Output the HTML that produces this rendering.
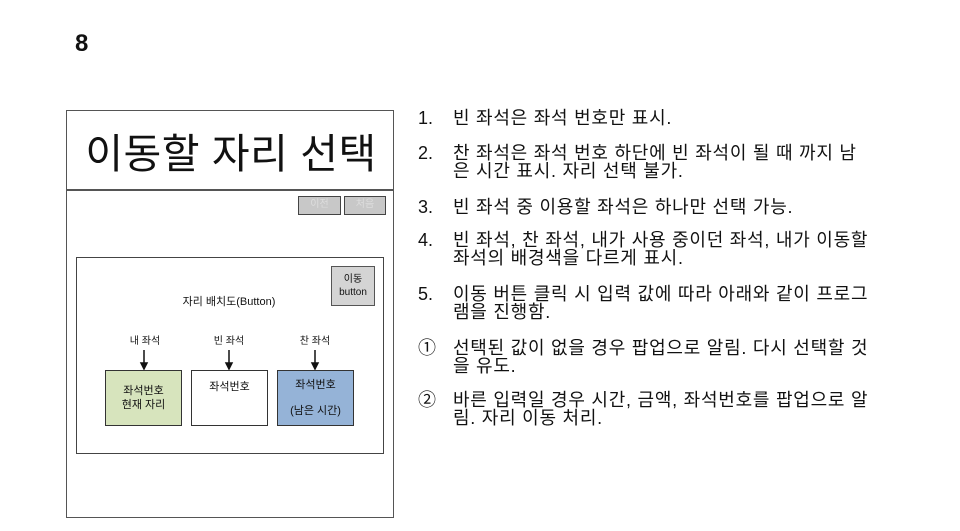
<!DOCTYPE html>
<html><head><meta charset="utf-8"><style>
body{margin:0;width:960px;height:531px;background:#fff;position:relative;overflow:hidden;font-family:"Liberation Sans","Noto Sans CJK KR","NanumGothic",sans-serif;color:#111}
.a{position:absolute}
.b{position:absolute;box-sizing:border-box}
.t{position:absolute;font-size:11px;white-space:nowrap;transform:translateX(-50%)}
.li{position:absolute;left:418px;font-size:18px;line-height:18px;white-space:nowrap}
.li span{position:absolute;left:35px;top:0;letter-spacing:0.75px}
</style></head><body>
<div class="a" style="left:75px;top:30px;font-size:24px;font-weight:bold">8</div>
<div class="b" style="left:66px;top:110px;width:328px;height:408px;border:1.5px solid #555"></div>
<div class="a" style="left:66px;top:189px;width:328px;height:2px;background:#555"></div>
<div class="t" style="left:231px;top:120px;font-size:41px;letter-spacing:0.5px">이동할 자리 선택</div>
<div class="b" style="left:298px;top:196px;width:43px;height:19px;background:#c8c8c8;border:1.5px solid #444;color:#ddd;font-size:10px;text-align:center;line-height:16px">이전</div>
<div class="b" style="left:344px;top:196px;width:42px;height:19px;background:#c8c8c8;border:1.5px solid #444;color:#ddd;font-size:10px;text-align:center;line-height:16px">처음</div>
<div class="b" style="left:76px;top:257px;width:308px;height:197px;border:1.5px solid #444"></div>
<div class="b" style="left:331px;top:266px;width:44px;height:40px;background:#d4d4d4;border:1.5px solid #555;font-size:10px;text-align:center;line-height:13px;padding-top:6px">이동<br>button</div>
<div class="t" style="left:229px;top:293px">자리 배치도(Button)</div>
<div class="t" style="left:145px;top:332px;font-size:10px">내 좌석</div>
<div class="t" style="left:229px;top:332px;font-size:10px">빈 좌석</div>
<div class="t" style="left:315px;top:332px;font-size:10px">찬 좌석</div>
<svg class="a" style="left:0;top:0" width="960" height="531">
<g stroke="#111" stroke-width="1.5" fill="#111">
<line x1="144" y1="350" x2="144" y2="364"/><polygon points="141,363 147,363 144,369" />
<line x1="229" y1="350" x2="229" y2="364"/><polygon points="226,363 232,363 229,369" />
<line x1="315" y1="350" x2="315" y2="364"/><polygon points="312,363 318,363 315,369" />
</g></svg>
<div class="b" style="left:105px;top:370px;width:77px;height:56px;background:#d7e4bd;border:1.5px solid #333;font-size:11px;text-align:center;line-height:14px;padding-top:13px">좌석번호<br>현재 자리</div>
<div class="b" style="left:191px;top:370px;width:77px;height:56px;background:#fff;border:1.5px solid #333;font-size:11px;text-align:center;padding-top:7px">좌석번호</div>
<div class="b" style="left:277px;top:370px;width:77px;height:56px;background:#95b3d7;border:1.5px solid #333;font-size:11px;text-align:center;line-height:14px;padding-top:7px">좌석번호<br><span style="display:block;margin-top:12px">(남은 시간)</span></div>
<div class="li" style="top:109px">1.<span>빈 좌석은 좌석 번호만 표시.</span></div>
<div class="li" style="top:144px">2.<span>찬 좌석은 좌석 번호 하단에 빈 좌석이 될 때 까지 남<br>은 시간 표시. 자리 선택 불가.</span></div>
<div class="li" style="top:198px">3.<span>빈 좌석 중 이용할 좌석은 하나만 선택 가능.</span></div>
<div class="li" style="top:231px">4.<span>빈 좌석, 찬 좌석, 내가 사용 중이던 좌석, 내가 이동할<br>좌석의 배경색을 다르게 표시.</span></div>
<div class="li" style="top:285px">5.<span>이동 버튼 클릭 시 입력 값에 따라 아래와 같이 프로그<br>램을 진행함.</span></div>
<div class="li" style="top:339px">①<span>선택된 값이 없을 경우 팝업으로 알림. 다시 선택할 것<br>을 유도.</span></div>
<div class="li" style="top:391px">②<span>바른 입력일 경우 시간, 금액, 좌석번호를 팝업으로 알<br>림. 자리 이동 처리.</span></div>
</body></html>
